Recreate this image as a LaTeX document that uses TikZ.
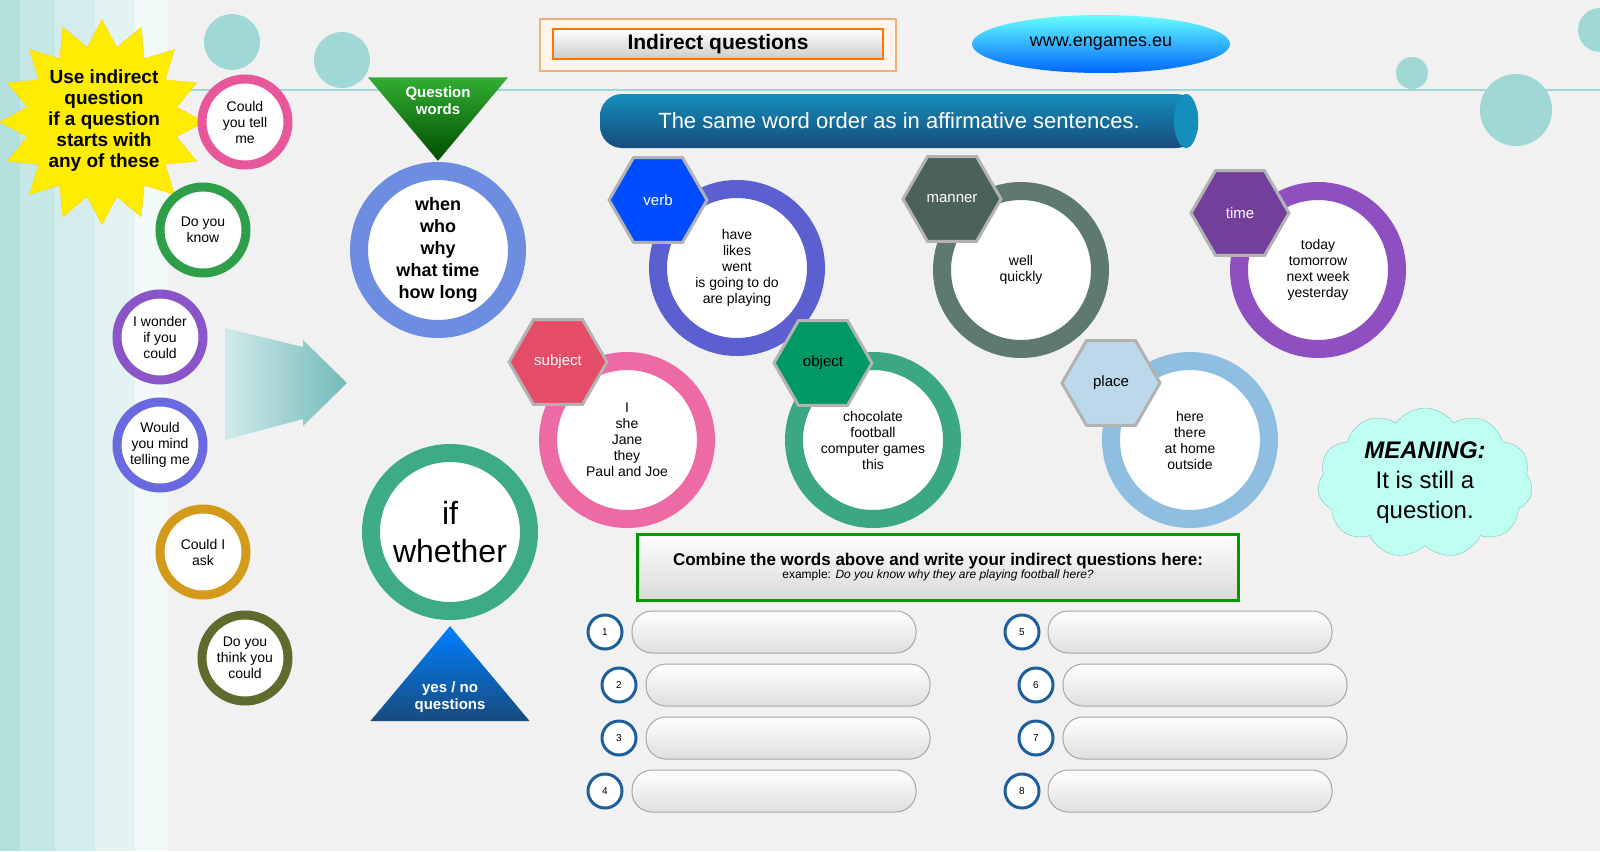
\documentclass[tikz,border=0pt]{standalone}
\usepackage{fontspec}
\setmainfont{Liberation Sans}
\usetikzlibrary{shapes.geometric,shapes.symbols}
\definecolor{bg}{HTML}{F1F1F1}
\definecolor{tealL}{HTML}{9FD8D4}
\definecolor{cPink}{HTML}{E8579A}
\definecolor{cGreen}{HTML}{2E9E48}
\definecolor{cPurp}{HTML}{8A55C8}
\definecolor{cBlueP}{HTML}{6A6AE0}
\definecolor{cGold}{HTML}{D49A1C}
\definecolor{cOlive}{HTML}{5E6B2E}
\definecolor{cBlue}{HTML}{6C8DE0}
\definecolor{cTeal}{HTML}{3DAA88}
\definecolor{cVerb}{HTML}{5B5FD0}
\definecolor{cSub}{HTML}{EE6AA4}
\definecolor{cObj}{HTML}{3BA882}
\definecolor{cMan}{HTML}{5E7A70}
\definecolor{cPlace}{HTML}{8FBFE0}
\definecolor{cTime}{HTML}{8E4FC0}
\definecolor{banner}{HTML}{1D5E9C}
\tikzset{
 bigring/.style={circle, draw=#1, line width=18pt, fill=white, minimum size=158pt, inner sep=0pt, align=center, font=\fontsize{14}{16}\selectfont},
 smallring/.style={circle, draw=#1, line width=9pt, fill=white, minimum size=86pt, inner sep=0pt, align=center, font=\fontsize{14}{16}\selectfont},
 hexa/.style={regular polygon, regular polygon sides=6, shape border rotate=0, minimum size=98pt, fill=#1, draw=gray!60, line width=3pt, text=white, font=\fontsize{15}{17}\selectfont},
 bar/.style={rounded corners=20pt, draw=gray!70, line width=1pt, top color=white, bottom color=gray!25, minimum width=284pt, minimum height=42pt},
 num/.style={circle, draw=banner, line width=3pt, fill=white, minimum size=34pt, inner sep=0pt, font=\fontsize{10}{12}\selectfont},
 deco/.style={fill=tealL, draw=none}
}
\begin{document}
\begin{tikzpicture}[x=1pt,y=-1pt]
\useasboundingbox (0,0) rectangle (1600,851);
\fill[bg] (0,0) rectangle (1600,851);
% left stripes
\fill[tealL!80] (0,0) rectangle (20,851);
\fill[tealL!60] (20,0) rectangle (55,851);
\fill[tealL!45] (55,0) rectangle (95,851);
\fill[tealL!30] (95,0) rectangle (135,851);
\fill[tealL!15] (135,0) rectangle (168,851);
% decorative circles and line
\draw[tealL, line width=1.5pt] (168,90) -- (1600,90);
\fill[deco] (232,42) circle (28);
\fill[deco] (342,60) circle (28);
\fill[deco] (1412,73) circle (16);
\fill[deco] (1516,110) circle (36);
\fill[deco] (1600,30) circle (22);
% title
\node[draw=orange!50!brown!60, fill=orange!8, line width=1.5pt, minimum width=356pt, minimum height=52pt] (tframe) at (718,45) {};
\node[draw=orange!90!red, line width=2pt, top color=white, bottom color=gray!40, minimum width=330pt, minimum height=30pt, font=\fontsize{21}{24}\selectfont\bfseries] (title) at (718,44) {Indirect questions};
\node[ellipse, top color=cyan!60, bottom color=blue!60!cyan, minimum width=258pt, minimum height=58pt, font=\fontsize{18}{20}\selectfont] (web) at (1101,44) {www.engames.eu};
% star
\node[star, star points=16, star point ratio=1.35, fill=yellow!95!orange, draw=yellow!70!orange, minimum size=205pt, inner sep=0pt] (star) at (102,122) {};
\node[align=center, font=\fontsize{19}{21}\selectfont\bfseries] (startext) at (104,121) {Use indirect\\question\\if a question\\starts with\\any of these};
% small rings
\node[smallring=cPink] (s1) at (245,122) {Could\\you tell\\me};
\node[smallring=cGreen] (s2) at (203,230) {Do you\\know};
\node[smallring=cPurp] (s3) at (160,337) {I wonder\\if you\\could};
\node[smallring=cBlueP] (s4) at (160,445) {Would\\you mind\\telling me};
\node[smallring=cGold] (s5) at (203,552) {Could I\\ask};
\node[smallring=cOlive] (s6) at (245,658) {Do you\\think you\\could};
% arrow
\shade[left color=tealL!50, right color=teal!55] (225,328) -- (303,347) -- (303,340) -- (347,383) -- (303,426) -- (303,419) -- (225,440) -- cycle;
% question words
\node[isosceles triangle, isosceles triangle apex angle=80, shape border rotate=-90, top color=green!60!black!80, bottom color=green!30!black, minimum width=140pt, inner sep=0pt, minimum height=80pt] (qtri) at (438,110) {};
\node[text=white, align=center, font=\fontsize{15}{17}\selectfont\bfseries] (qtext) at (438,101) {Question\\words};
\node[bigring=cBlue, font=\fontsize{18}{22}\selectfont\bfseries] (qw) at (438,250) {when\\who\\why\\what time\\how long};
\node[bigring=cTeal, font=\fontsize{32}{38}\selectfont] (ifw) at (450,532) {if\\whether};
\node[isosceles triangle, isosceles triangle apex angle=80, shape border rotate=90, top color=blue!50!cyan, bottom color=banner!80!black, minimum width=136pt, inner sep=0pt, minimum height=95pt] (ytri) at (450,684) {};
\node[text=white, align=center, font=\fontsize{15}{17}\selectfont\bfseries] (ytext) at (450,697) {yes / no\\questions};
% banner
\node[rounded corners=22pt, top color=banner!70!cyan, bottom color=banner!80!black, minimum width=598pt, minimum height=54pt, text=white, font=\fontsize{22}{25}\selectfont] (same) at (899,121) {The same word order as in affirmative sentences.};
\fill[banner!70!cyan] (1186,121) ellipse (12 and 27);
% big rings with hexagons
\node[bigring=cVerb] (verb) at (737,268) {have\\likes\\went\\is going to do\\are playing};
\node[bigring=cMan] (manner) at (1021,270) {well\\quickly};
\node[bigring=cTime] (time) at (1318,270) {today\\tomorrow\\next week\\yesterday};
\node[bigring=cSub] (subj) at (627,440) {I\\she\\Jane\\they\\Paul and Joe};
\node[bigring=cObj] (obj) at (873,440) {chocolate\\football\\computer games\\this};
\node[bigring=cPlace] (place) at (1190,440) {here\\there\\at home\\outside};
\node[hexa=blue!70!cyan] (hverb) at (658,200) {verb};
\node[hexa=cMan!80!black] (hman) at (952,199) {manner};
\node[hexa=cTime!80!black] (htime) at (1240,213) {time};
\node[hexa=purple!60!red!70] (hsub) at (558,362) {subject};
\node[hexa=teal!80!green, text=black] (hobj) at (823,363) {object};
\node[hexa=cPlace!60!white, text=black] (hplace) at (1111,383) {place};
% cloud
\node[cloud, cloud puffs=11, cloud puff arc=110, aspect=1.5, fill=green!20!cyan!25, draw=teal!50, minimum width=215pt, minimum height=150pt, align=center, font=\fontsize{24}{30}\selectfont] (meaning) at (1425,483) {\textbf{\textit{MEANING:}}\\It is still a\\question.};
% combine box
\node[draw=green!60!black, line width=3pt, top color=white, bottom color=gray!30, minimum width=601pt, minimum height=66pt, align=center] (comb) at (938,567) {\fontsize{17}{20}\selectfont\bfseries Combine the words above and write your indirect questions here:\\[-1pt] \fontsize{12}{14}\selectfont example: \textit{Do you know why they are playing football here?}};
% answer bars
\node[bar] (b1) at (774,632) {};
\node[bar] (b2) at (788,685) {};
\node[bar] (b3) at (788,738) {};
\node[bar] (b4) at (774,791) {};
\node[bar] (b5) at (1190,632) {};
\node[bar] (b6) at (1205,685) {};
\node[bar] (b7) at (1205,738) {};
\node[bar] (b8) at (1190,791) {};
\node[num] (n1) at (605,632) {1};
\node[num] (n2) at (619,685) {2};
\node[num] (n3) at (619,738) {3};
\node[num] (n4) at (605,791) {4};
\node[num] (n5) at (1022,632) {5};
\node[num] (n6) at (1036,685) {6};
\node[num] (n7) at (1036,738) {7};
\node[num] (n8) at (1022,791) {8};
\end{tikzpicture}
\end{document}
